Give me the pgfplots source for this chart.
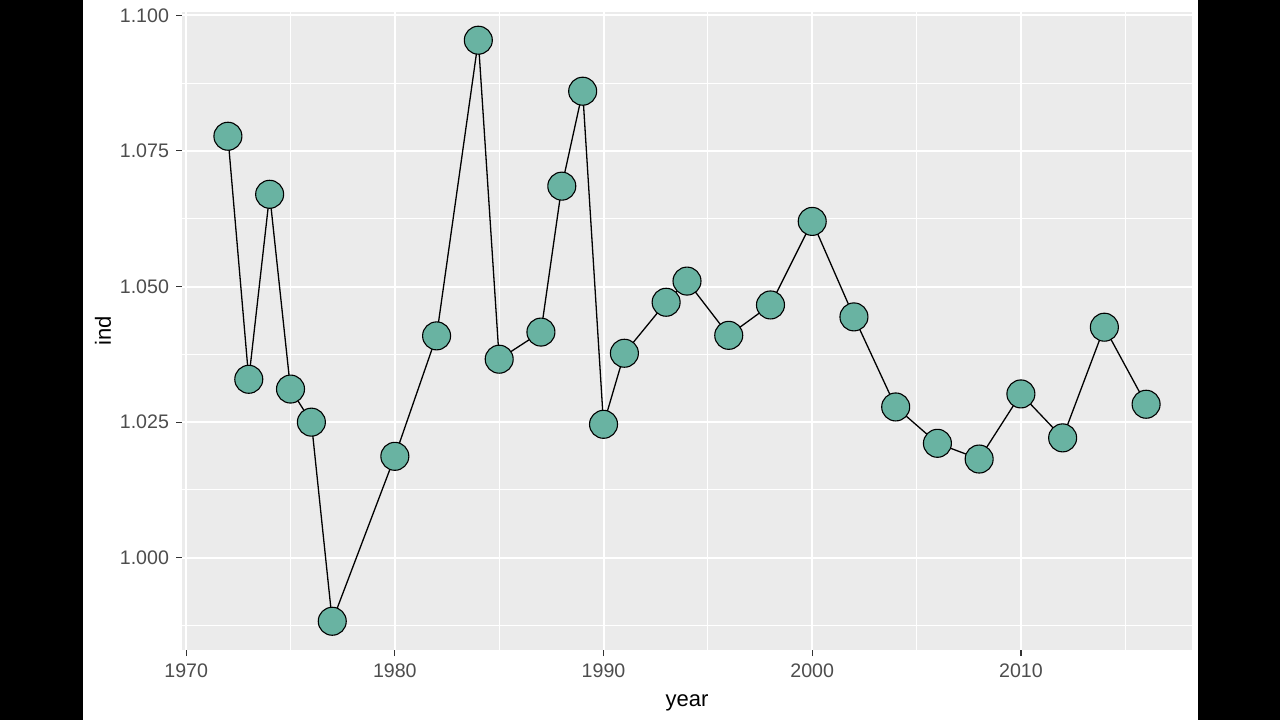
\documentclass[border=0pt]{standalone}
\usepackage{fontspec}
\setmainfont{Liberation Sans}
\usepackage{pgfplots}
\pgfplotsset{compat=1.18}
\definecolor{panelgrey}{RGB}{235,235,235}
\definecolor{ptfill}{RGB}{105,179,162}
\definecolor{ticktext}{RGB}{77,77,77}
\definecolor{tickcol}{RGB}{51,51,51}

\begin{document}
\begin{tikzpicture}
% pillarbox frame of the screenshot (1px = 0.5pt)
\fill[black] (0pt,0pt) rectangle (41.5pt,360pt);
\fill[white] (41.5pt,0pt) rectangle (599pt,360pt);
\fill[black] (599pt,0pt) rectangle (640pt,360pt);
\begin{axis}[
    at={(91pt,35pt)}, anchor=south west,
    scale only axis,
    width=505pt, height=319pt,
    xmin=1969.8, xmax=2018.2,
    ymin=0.983, ymax=1.1006,
    axis background/.style={fill=panelgrey},
    axis x line*=bottom, axis y line*=left,
    axis line style={draw=none},
    xtick={1970,1980,1990,2000,2010},
    minor xtick={1975,1985,1995,2005,2015},
    ytick={1.000,1.025,1.050,1.075,1.100},
    minor ytick={0.9875,1.0125,1.0375,1.0625,1.0875},
    grid=both,
    major grid style={white, line width=1pt},
    minor grid style={white, line width=0.5pt},
    tick align=outside,
    major tick length=3pt,
    minor tick length=0pt,
    tick style={tickcol, line width=0.6pt},
    tick label style={font=\fontsize{9.8}{11}\selectfont, text=ticktext},
    /pgf/number format/assume math mode=true,
    xticklabel style={/pgf/number format/1000 sep={}, yshift=-0.5pt},
    yticklabel style={/pgf/number format/.cd, fixed, fixed zerofill, precision=3},
    xlabel={year}, ylabel={ind},
    every axis x label/.style={at={(axis description cs:0.5,-0.083)}, anchor=center, font=\fontsize{11}{13}\selectfont},
    every axis y label/.style={at={(axis description cs:-0.0782,0.5)}, rotate=90, anchor=center, font=\fontsize{11}{13}\selectfont},
    clip=false,
]
\addplot[black, line width=0.65pt, mark=*, mark size=7pt,
    mark options={fill=ptfill, draw=black, line width=0.55pt}]
coordinates {
    (1972,1.0777) (1973,1.0329) (1974,1.0670) (1975,1.0311)
    (1976,1.0250) (1977,0.9883) (1980,1.0187) (1982,1.0409)
    (1984,1.0954) (1985,1.0366) (1987,1.0416) (1988,1.0685)
    (1989,1.0860) (1990,1.0246) (1991,1.0377) (1993,1.0471)
    (1994,1.0510) (1996,1.0410) (1998,1.0466) (2000,1.0620)
    (2002,1.0444) (2004,1.0278) (2006,1.0211) (2008,1.0182)
    (2010,1.0302) (2012,1.0221) (2014,1.0425) (2016,1.0283)
};
\end{axis}
\end{tikzpicture}
\end{document}
